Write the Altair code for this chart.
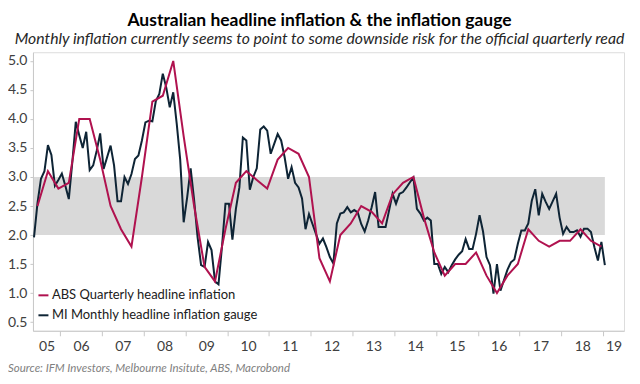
import altair as alt
import pandas as pd

# ---- data ----
MI_START_YEAR, MI_START_MONTH = 2005, 5  # first monthly observation (May 2005)
mi_values = [
    1.96, 2.55, 2.97, 3.10, 3.55, 3.38, 2.85, 2.95, 3.06, 2.85,
    2.62, 3.25, 3.95, 3.72, 3.50, 3.78, 3.12, 3.20, 3.45, 3.75,
    3.14, 3.34, 3.54, 3.20, 2.58, 2.58, 3.00, 2.88, 3.05, 3.31,
    3.37, 3.63, 3.94, 3.97, 3.96, 4.31, 4.43, 4.78, 4.54, 4.20,
    4.46, 3.92, 3.30, 2.22, 2.65, 3.15, 2.60, 1.96, 1.48, 1.45,
    1.88, 1.74, 1.20, 1.15, 1.80, 2.54, 2.54, 1.92, 2.45, 2.82,
    3.68, 3.63, 2.78, 3.00, 3.15, 3.82, 3.87, 3.80, 3.40, 3.57,
    3.74, 3.63, 3.34, 2.97, 3.17, 2.90, 2.82, 2.63, 2.10, 2.36,
    2.19, 2.02, 1.85, 1.94, 1.79, 1.62, 1.51, 2.20, 2.37, 2.39,
    2.48, 2.39, 2.43, 2.39, 2.19, 2.06, 2.25, 2.48, 2.74, 2.14,
    2.14, 2.14, 2.42, 2.71, 2.54, 2.71, 2.74, 2.82, 2.91, 2.99,
    2.45, 2.37, 2.25, 2.30, 2.25, 1.50, 1.50, 1.33, 1.45, 1.36,
    1.48, 1.58, 1.66, 1.72, 1.93, 1.76, 1.76, 2.02, 2.34, 2.06,
    1.62, 1.48, 0.99, 1.50, 1.04, 1.22, 1.40, 1.53, 1.58, 1.85,
    2.08, 2.08, 2.20, 2.59, 2.79, 2.34, 2.71, 2.57, 2.45, 2.58,
    2.71, 2.30, 2.02, 2.14, 2.05, 2.05, 2.08, 1.97, 2.11, 2.11,
    2.05, 1.79, 1.56, 1.88, 1.48,
]

ABS_START_YEAR, ABS_START_MONTH = 2005, 6  # first quarterly observation (Jun 2005)
abs_values = [
    2.5, 3.1, 2.8,
    2.9, 4.0, 4.0, 3.3,
    2.5, 2.1, 1.8, 3.0,
    4.3, 4.4, 5.0, 3.7,
    2.5, 1.45, 1.2, 2.1,
    2.9, 3.1, 2.95, 2.8,
    3.3, 3.5, 3.4, 3.0,
    1.6, 1.2, 2.0, 2.2,
    2.5, 2.4, 2.2, 2.7,
    2.9, 3.0, 2.3, 1.7,
    1.3, 1.5, 1.5, 1.7,
    1.3, 1.0, 1.3, 1.5,
    2.1, 1.9, 1.8, 1.9,
    1.9, 2.1, 1.9, 1.8,
]

series_names = ["ABS Quarterly headline inflation", "MI Monthly headline inflation gauge"]
series_colors = ["#B0124F", "#0E2435"]

year_ticks = list(range(2006, 2020))
year_labels = ["05", "06", "07", "08", "09", "10", "11", "12", "13", "14", "15", "16", "17", "18", "19"]
y_ticks = [0.5, 1.0, 1.5, 2.0, 2.5, 3.0, 3.5, 4.0, 4.5, 5.0]
band_low, band_high = 2.0, 3.0
x_min, x_max = 2005.35, 2019.5
y_min, y_max = 0.35, 5.15

title_text = "Australian headline inflation & the inflation gauge"
subtitle_text = "Monthly inflation currently seems to point to some downside risk for the official quarterly read"
source_text = "Source: IFM Investors, Melbourne Insitute, ABS, Macrobond"


def month_to_t(y, m, step, n):
    out = []
    for i in range(n):
        mm = (m - 1) + i * step
        yy = y + mm // 12
        mo = mm % 12 + 1
        out.append(yy + (mo - 0.5) / 12.0)
    return out


mi_t = month_to_t(MI_START_YEAR, MI_START_MONTH, 1, len(mi_values))
abs_t = month_to_t(ABS_START_YEAR, ABS_START_MONTH, 3, len(abs_values))

lines_df = pd.concat([
    pd.DataFrame({"t": mi_t, "v": mi_values, "series": series_names[1]}),
    pd.DataFrame({"t": abs_t, "v": abs_values, "series": series_names[0]}),
])

band_df = pd.DataFrame({"x0": [mi_t[0]], "x1": [mi_t[-1]], "lo": [band_low], "hi": [band_high]})

# label positions: middle of the visible part of each year
label_pos = []
for i, lab in enumerate(year_labels):
    yr = 2005 + i
    a = max(yr, x_min)
    b = min(yr + 1, x_max)
    label_pos.append((a + b) / 2)
labels_expr = "{" + ",".join(f"'{2005 + i}':'{lab}'" for i, lab in enumerate(year_labels)) + "}"

W, H = 592, 279
FONT = "Lato"
AXIS_GREY = "#C8C8C8"

xscale = alt.Scale(domain=[x_min, x_max], nice=False, zero=False)
yscale = alt.Scale(domain=[y_min, y_max], nice=False, zero=False)

yaxis = alt.Axis(values=y_ticks, format=".1f", grid=False, domainColor=AXIS_GREY,
                 tickColor=AXIS_GREY, tickSize=3, labelPadding=3, labelFontSize=14,
                 labelFont=FONT, labelColor="#404040", title=None)

band = alt.Chart(band_df).mark_rect(color="#D9D9D9").encode(
    x=alt.X("x0:Q", scale=xscale,
            axis=alt.Axis(values=year_ticks, labels=False, grid=False, domainColor=AXIS_GREY,
                          tickColor=AXIS_GREY, tickSize=5, title=None, orient="bottom")),
    x2="x1",
    y=alt.Y("lo:Q", scale=yscale, axis=yaxis),
    y2="hi",
)

lines = alt.Chart(lines_df).mark_line(strokeWidth=2).encode(
    x=alt.X("t:Q", scale=xscale,
            axis=alt.Axis(values=label_pos, labelExpr=f"{labels_expr}[''+floor(datum.value)]",
                          ticks=False, domain=False, grid=False, labelPadding=9,
                          labelFontSize=14, labelFont=FONT, labelColor="#404040",
                          title=None, orient="bottom", labelFlush=False)),
    y=alt.Y("v:Q", scale=yscale, axis=yaxis),
    color=alt.Color("series:N", scale=alt.Scale(domain=series_names, range=series_colors),
                    legend=alt.Legend(orient="none", legendX=4, legendY=237, title=None,
                                      symbolType="stroke", symbolStrokeWidth=2, symbolSize=100,
                                      labelFontSize=13, labelFont=FONT, labelColor="#202020",
                                      labelLimit=0, rowPadding=6, symbolOffset=0, labelOffset=2)),
    detail="series:N",
    order="t:Q",
)

source = alt.Chart(pd.DataFrame({"s": [source_text]})).mark_text(
    align="left", baseline="middle", fontStyle="italic", fontSize=11.5, font=FONT, color="#808080"
).encode(x=alt.value(-25), y=alt.value(317), text="s:N")

chart = alt.layer(band, lines, source).resolve_axis(x="independent").properties(
    width=W, height=H,
    autosize=alt.AutoSizeParams(type="none"),
    padding={"left": 25, "top": 44, "right": 8, "bottom": 44},
    title=alt.Title(text=title_text, subtitle=subtitle_text, anchor="middle", frame="group",
                    font=FONT, fontSize=17.5, fontWeight="bold", color="#000000",
                    subtitleFont=FONT, subtitleFontSize=15.8, subtitleFontStyle="italic",
                    subtitleColor="#262626", subtitlePadding=3, offset=5, dx=-9),
).configure_view(stroke=None).configure(background="white")

chart.save("out.html", embed_options={"renderer": "svg", "actions": False})
